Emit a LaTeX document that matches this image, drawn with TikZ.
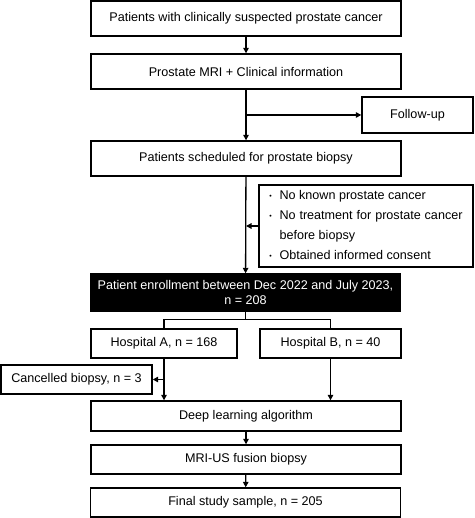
\documentclass[tikz,border=0pt]{standalone}
\usepackage{fontspec}
\setmainfont{Liberation Sans}
\usetikzlibrary{arrows.meta}
\begin{document}
\begin{tikzpicture}[x=1pt,y=-1pt,
  box/.style={draw=black,line width=1.4pt,fill=white,inner sep=0pt,align=center,
    font=\fontsize{12.6}{15}\selectfont},
  blackbox/.style={box,fill=black,text=white},
  arr/.style={line width=1.3pt,-{Triangle[length=5.5pt,width=5.5pt]}},
  ln/.style={line width=1.3pt}]
\useasboundingbox (0,0) rectangle (474,518);
\node[box,minimum width=310pt,minimum height=35pt] (b1) at (246,18.5) {Patients with clinically suspected prostate cancer};
\node[box,minimum width=310pt,minimum height=35pt] (b2) at (246,71.5) {Prostate MRI + Clinical information};
\node[box,minimum width=111pt,minimum height=36pt] (fu) at (417.5,115) {Follow-up};
\node[box,minimum width=310pt,minimum height=35pt] (b3) at (246,158.5) {Patients scheduled for prostate biopsy};
\node[box,minimum width=214pt,minimum height=82pt,align=left] (crit) at (366,226) {%
  \fontsize{12.6}{20}\selectfont
  \begin{tabular}{@{}l@{\hspace{7.6pt}}p{183pt}@{}}
  \raisebox{1pt}{\scriptsize•} & No known prostate cancer\\
  \raisebox{1pt}{\scriptsize•} & No treatment for prostate cancer before biopsy\\
  \raisebox{1pt}{\scriptsize•} & Obtained informed consent
  \end{tabular}};
\node[blackbox,minimum width=309pt,minimum height=37pt] (enr) at (245.5,292.5) {Patient enrollment between Dec 2022 and July 2023,\\ n = 208};
\node[box,minimum width=146pt,minimum height=29pt] (hA) at (164,343.5) {Hospital A, n = 168};
\node[box,minimum width=141pt,minimum height=29pt] (hB) at (330.5,343.5) {Hospital B, n = 40};
\node[box,minimum width=151pt,minimum height=29pt] (cb) at (76.5,379.5) {Cancelled biopsy, n = 3};
\node[box,minimum width=310pt,minimum height=30pt] (dl) at (246,416) {Deep learning algorithm};
\node[box,minimum width=310pt,minimum height=29pt] (mri) at (246,459.5) {MRI-US fusion biopsy};
\node[box,minimum width=310pt,minimum height=29pt] (fin) at (245.5,502.5) {Final study sample, n = 205};

\draw[arr] (b1) -- (b2);
\draw[arr] (b2) -- (b3);
\draw[arr] (b2.south |- fu.west) -- (fu.west);
\draw[arr] (b3) -- (enr);
\draw[arr] (crit.west) -- (crit.west -| b3.south);
\coordinate (split) at ([yshift=-8pt]enr.south);
\draw[ln] (enr.south) -- (split);
\draw[ln] (hA.north) -- (hA.north |- split) -- (hB.north |- split) -- (hB.north);
\draw[arr] (hA.south) -- (hA.south |- dl.north);
\draw[arr] (hA.south |- cb.east) -- (cb.east);
\draw[arr] (hB.south) -- (hB.south |- dl.north);
\draw[arr] (dl) -- (mri);
\draw[arr] (mri) -- (fin);
\end{tikzpicture}
\end{document}
